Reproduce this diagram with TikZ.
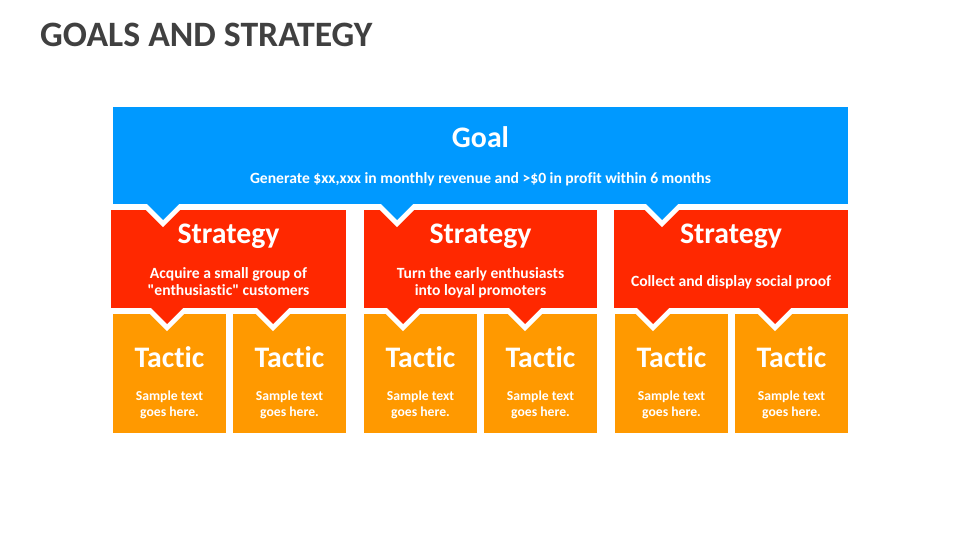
\documentclass[tikz,border=0pt]{standalone}
\usepackage{fontspec}
\setmainfont{Carlito}[Ligatures={NoCommon,TeXOff}]
\usetikzlibrary{calc,positioning}
\definecolor{goalblue}{RGB}{0,153,255}
\definecolor{stratred}{RGB}{255,40,0}
\definecolor{tacticorange}{RGB}{255,153,0}
\definecolor{titlegray}{RGB}{64,64,64}
\tikzset{
  box/.style={anchor=north west, inner sep=0pt, outer sep=0pt},
  goalbox/.style={box, fill=goalblue, minimum width=735pt, minimum height=97pt},
  stratbox/.style={box, fill=stratred, minimum height=98pt},
  tacticbox/.style={box, fill=tacticorange, minimum width=113pt, minimum height=119pt},
  head/.style={anchor=base, white, font=\fontsize{29.8}{34}\selectfont\bfseries, inner sep=0pt},
  body/.style={anchor=base, white, align=center, inner sep=0pt},
  notchedge/.style={white, line width=10pt, line join=miter},
}
% notch below a box: #1 top centre, #2 colour
\newcommand{\notch}[2]{%
  \begin{scope}
    \clip ($(#1)+(-40,0)$) rectangle ($(#1)+(40,40)$);
    \draw[notchedge] ($(#1)+(-26,-10)$) -- ($(#1)+(0,16)$) -- ($(#1)+(26,-10)$);
  \end{scope}
  \fill[#2] ($(#1)+(-26,-10)$) -- ($(#1)+(0,16)$) -- ($(#1)+(26,-10)$) -- cycle;
}

\begin{document}
\begin{tikzpicture}[x=1pt, y=-1pt]
    \useasboundingbox[fill=white] (0,0) rectangle (960,540);
    \node[anchor=base west, inner sep=0pt, titlegray, font=\fontsize{35.7}{40}\selectfont\bfseries] (title) at (40,47) {GOALS AND STRATEGY};

    % tactics
    \node[tacticbox] (t1) at (113,314) {};
    \node[tacticbox] (t2) at (233,314) {};
    \node[tacticbox] (t3) at (364,314) {};
    \node[tacticbox] (t4) at (484,314) {};
    \node[tacticbox] (t5) at (615,314) {};
    \node[tacticbox] (t6) at (735,314) {};

    % strategies
    \node[stratbox, minimum width=235pt] (s1) at (111,210) {};
    \node[stratbox, minimum width=233pt] (s2) at (364,210) {};
    \node[stratbox, minimum width=234pt] (s3) at (614,210) {};

    % goal
    \node[goalbox] (goal) at (113,107) {};

    \notch{$(goal.south -| s1.west)+(52,0)$}{goalblue}
    \notch{$(goal.south -| s2.west)+(33,0)$}{goalblue}
    \notch{$(goal.south -| s3.west)+(48,0)$}{goalblue}

    \notch{$(s1.south -| t1.west)+(54,0)$}{stratred}
    \notch{$(s1.south -| t2.west)+(40,0)$}{stratred}
    \notch{$(s2.south -| t3.west)+(39,0)$}{stratred}
    \notch{$(s2.south -| t4.west)+(41,0)$}{stratred}
    \notch{$(s3.south -| t5.west)+(38,0)$}{stratred}
    \notch{$(s3.south -| t6.west)+(40,0)$}{stratred}

    \node[head] (goalhead) at ($(goal.north)+(0,41)$) {Goal};
    \node[body, font=\fontsize{15.6}{17}\selectfont\bfseries] (goaltext) at ($(goal.north)+(0,76)$)
      {Generate \$xx,xxx in monthly revenue and >\$0 in profit within 6 months};

    \node[head] (s1head) at ($(s1.north)+(0,33)$) {Strategy};
    \node[head] (s2head) at ($(s2.north)+(0,33)$) {Strategy};
    \node[head] (s3head) at ($(s3.north)+(0,33)$) {Strategy};
    \node[body, font=\fontsize{15.6}{17}\selectfont\bfseries] (s1text) at ($(s1.north)+(0,85)$)
      {Acquire a small group of\\"enthusiastic" customers};
    \node[body, font=\fontsize{15.6}{17}\selectfont\bfseries] (s2text) at ($(s2.north)+(0,85)$)
      {Turn the early enthusiasts\\into loyal promoters};
    \node[body, font=\fontsize{15.6}{17}\selectfont\bfseries] (s3text) at ($(s3.north)+(0,76)$)
      {Collect and display social proof};

    \foreach \t in {t1,t2,t3,t4,t5,t6} {
      \node[head] (\t head) at ($(\t.north)+(0,53)$) {Tactic};
      \node[body, font=\fontsize{13.7}{16}\selectfont\bfseries] (\t text) at ($(\t.north)+(0,102)$)
        {Sample text\\goes here.};
    }
\end{tikzpicture}
\end{document}
